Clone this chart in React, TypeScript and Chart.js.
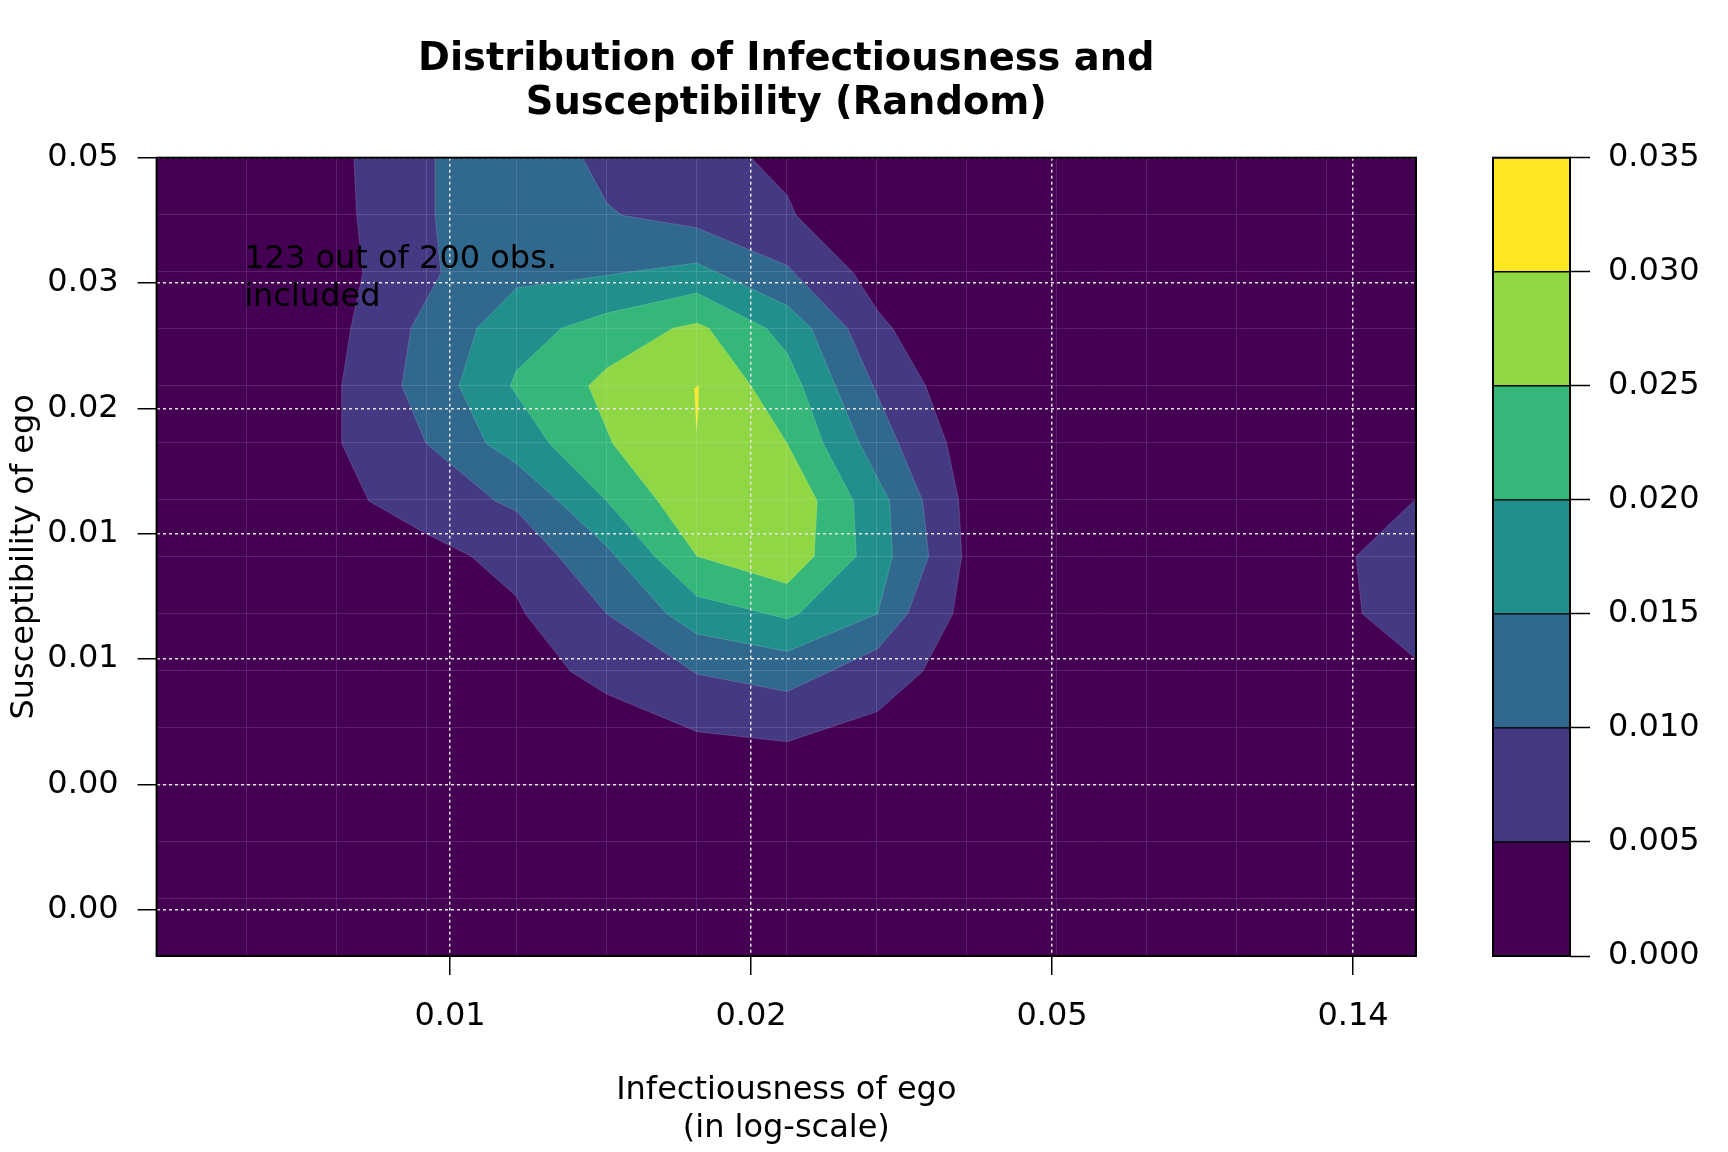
import { useEffect, useRef } from "react";
import { Chart, registerables } from "chart.js";

Chart.register(...registerables);

const FONT = "'DejaVu Sans', sans-serif";
Chart.defaults.font.family = FONT;

// density levels of the filled contour and their viridis colours
const levels = [0, 0.005, 0.01, 0.015, 0.02, 0.025, 0.03, 0.035];
const levelLabels = ["0.000", "0.005", "0.010", "0.015", "0.020", "0.025", "0.030", "0.035"];
const levelColors = ["#440154", "#443A83", "#31688E", "#21908C", "#35B779", "#8FD744", "#FDE725"];

// both axes are in natural log, labels are exp() rounded to 2 decimals
const xRange = [-5.975, -1.791];
const yRange = [-6.185, -3.0];
const xTickVals = [-5, -4, -3, -2];
const xTickLabels = ["0.01", "0.02", "0.05", "0.14"];
const yTickVals = [-3, -3.5, -4, -4.5, -5, -5.5, -6];
const yTickLabels = ["0.05", "0.03", "0.02", "0.01", "0.01", "0.00", "0.00"];

// density grid nodes (seams of the filled contour)
const gridX = [-5.676, -5.377, -5.078, -4.779, -4.48, -4.181, -3.882, -3.584, -3.285, -2.986, -2.687, -2.388, -2.089];
const gridY = [-3.227, -3.455, -3.683, -3.91, -4.137, -4.365, -4.592, -4.82, -5.047, -5.275, -5.502, -5.729, -5.957];

const titleLines = ["Distribution of Infectiousness and", "Susceptibility (Random)"];
const xTitle = ["Infectiousness of ego", "(in log-scale)"];
const yTitle = "Susceptibility of ego";
const noteLines = ["123 out of 200 obs.", "included"];
const noteX = -5.684;
const noteY = -3.441;

// contour polygons, [ln infectiousness, ln susceptibility]
const band005 = [
  [-5.32, -3.0], [-4.0, -3.0], [-3.88, -3.15], [-3.85, -3.23], [-3.66, -3.46], [-3.58, -3.61],
  [-3.53, -3.68], [-3.42, -3.91], [-3.35, -4.14], [-3.31, -4.37], [-3.3, -4.59], [-3.33, -4.82],
  [-3.43, -5.05], [-3.58, -5.21], [-3.88, -5.33], [-4.18, -5.29], [-4.48, -5.14], [-4.6, -5.05],
  [-4.75, -4.82], [-4.78, -4.75], [-4.93, -4.59], [-5.08, -4.5], [-5.27, -4.37], [-5.36, -4.14],
  [-5.36, -3.91], [-5.33, -3.68], [-5.29, -3.46], [-5.31, -3.23],
];
const band005Right = [[-1.79, -4.36], [-1.99, -4.59], [-1.97, -4.82], [-1.79, -5.0]];
const band010 = [
  [-5.05, -3.0], [-4.56, -3.0], [-4.48, -3.18], [-4.43, -3.23], [-4.18, -3.28], [-3.88, -3.43],
  [-3.68, -3.68], [-3.58, -3.95], [-3.51, -4.14], [-3.43, -4.37], [-3.41, -4.59], [-3.48, -4.82],
  [-3.58, -4.96], [-3.88, -5.13], [-4.18, -5.06], [-4.48, -4.82], [-4.64, -4.59], [-4.78, -4.41],
  [-4.85, -4.37], [-5.08, -4.14], [-5.16, -3.91], [-5.13, -3.68], [-5.03, -3.46], [-5.05, -3.23],
];
const band015 = [
  [-4.78, -3.52], [-4.48, -3.47], [-4.43, -3.46], [-4.18, -3.42], [-3.88, -3.59], [-3.8, -3.68],
  [-3.72, -3.91], [-3.64, -4.14], [-3.54, -4.37], [-3.53, -4.59], [-3.58, -4.82], [-3.88, -4.97],
  [-4.18, -4.9], [-4.28, -4.82], [-4.48, -4.55], [-4.64, -4.37], [-4.78, -4.22], [-4.88, -4.14],
  [-4.97, -3.91], [-4.91, -3.68],
];
const band020 = [
  [-4.8, -3.91], [-4.78, -3.85], [-4.63, -3.68], [-4.48, -3.62], [-4.18, -3.54], [-3.95, -3.68],
  [-3.88, -3.78], [-3.83, -3.91], [-3.76, -4.14], [-3.66, -4.37], [-3.65, -4.59], [-3.84, -4.82],
  [-3.88, -4.84], [-4.18, -4.75], [-4.32, -4.59], [-4.48, -4.37], [-4.67, -4.14],
];
const band025 = [
  [-4.54, -3.91], [-4.48, -3.84], [-4.26, -3.68], [-4.18, -3.66], [-4.14, -3.68], [-4.0, -3.91],
  [-3.88, -4.14], [-3.78, -4.37], [-3.79, -4.59], [-3.88, -4.7], [-4.18, -4.59], [-4.31, -4.37],
  [-4.46, -4.14],
];
const band030 = [[-4.188, -3.92], [-4.174, -3.91], [-4.176, -4.01], [-4.181, -4.09]];

const contours: [number[][], number][] = [
  [band005, 1],
  [band005Right, 1],
  [band010, 2],
  [band015, 3],
  [band020, 4],
  [band025, 5],
  [band030, 6],
];

const DOT = "#e4e4e4";
const SEAM = "rgba(255,255,255,0.12)";

// fills the plot with the lowest level, then each contour polygon on top
const contourFill = {
  id: "contourFill",
  beforeDatasetsDraw(chart: any) {
    const { ctx, chartArea: a } = chart;
    ctx.save();
    ctx.beginPath();
    ctx.rect(a.left, a.top, a.width, a.height);
    ctx.clip();
    ctx.fillStyle = levelColors[0];
    ctx.fillRect(a.left, a.top, a.width, a.height);
    chart.data.datasets.forEach((ds: any, i: number) => {
      const pts = chart.getDatasetMeta(i).data;
      if (!pts.length) return;
      ctx.beginPath();
      pts.forEach((p: any, j: number) => (j ? ctx.lineTo(p.x, p.y) : ctx.moveTo(p.x, p.y)));
      ctx.closePath();
      ctx.fillStyle = ds.backgroundColor;
      ctx.fill();
      ctx.strokeStyle = "rgba(255,255,255,0.15)";
      ctx.lineWidth = 1;
      ctx.stroke();
    });
    ctx.restore();
  },
};

const frame = {
  id: "frame",
  afterDraw(chart: any) {
    const { ctx, chartArea: a } = chart;
    ctx.save();
    ctx.strokeStyle = "#000";
    ctx.lineWidth = 2;
    ctx.strokeRect(a.left, a.top, a.width, a.height);
    ctx.restore();
  },
};

const texts = {
  id: "texts",
  afterDraw(chart: any) {
    const { ctx, chartArea: a, scales } = chart;
    ctx.save();
    ctx.fillStyle = "#000";
    ctx.textAlign = "center";
    ctx.font = `bold 38.4px ${FONT}`;
    const cx = (a.left + a.right) / 2;
    ctx.fillText(titleLines[0], cx, 70);
    ctx.fillText(titleLines[1], cx, 114.3);
    ctx.textAlign = "left";
    ctx.font = `32px ${FONT}`;
    const nx = scales.x.getPixelForValue(noteX);
    const ny = scales.y.getPixelForValue(noteY);
    noteLines.forEach((t, i) => ctx.fillText(t, nx, ny + i * 37.7));
    ctx.restore();
  },
};

const tickFont = { family: FONT, size: 32 };

export default function App() {
  const plotRef = useRef<HTMLCanvasElement>(null);
  const barRef = useRef<HTMLCanvasElement>(null);

  useEffect(() => {
    if (!plotRef.current || !barRef.current) return;

    const plot = new Chart(plotRef.current, {
      type: "scatter",
      data: {
        datasets: contours.map(([pts, lvl]) => ({
          data: pts.map(([x, y]) => ({ x, y })),
          backgroundColor: levelColors[lvl],
          pointRadius: 0,
          pointHoverRadius: 0,
          showLine: false,
        })),
      },
      options: {
        responsive: false,
        animation: false,
        events: [],
        layout: { padding: { left: 0, top: 157.7, right: 24, bottom: 0 } },
        plugins: { legend: { display: false }, tooltip: { enabled: false } },
        scales: {
          x: {
            type: "linear",
            position: "bottom",
            min: xRange[0],
            max: xRange[1],
            bounds: "data",
            afterBuildTicks: (s: any) => { s.ticks = xTickVals.map((v) => ({ value: v })); },
            afterFit: (s: any) => { s.height = 196; },
            ticks: {
              autoSkip: false,
              maxRotation: 0,
              callback: (_v: any, i: number) => xTickLabels[i],
              font: tickFont,
              color: "#000",
              padding: 22,
            },
            grid: { color: DOT, lineWidth: 1.5, tickColor: "#000", tickWidth: 1.5, tickLength: 19, tickBorderDash: [], z: 2 },
            border: { display: false, dash: [3, 3] },
            title: {
              display: true,
              text: xTitle,
              color: "#000",
              font: { family: FONT, size: 32, lineHeight: 37.5 / 32 },
              padding: { top: 0, bottom: 5 },
            },
          },
          y: {
            type: "linear",
            position: "left",
            min: yRange[0],
            max: yRange[1],
            bounds: "data",
            afterBuildTicks: (s: any) => { s.ticks = yTickVals.map((v) => ({ value: v })); },
            afterFit: (s: any) => { s.width = 156.6; },
            ticks: {
              autoSkip: false,
              callback: (_v: any, i: number) => yTickLabels[i],
              font: tickFont,
              color: "#000",
              padding: 19,
            },
            grid: { color: DOT, lineWidth: 1.5, tickColor: "#000", tickWidth: 1.5, tickLength: 19, tickBorderDash: [], z: 2 },
            border: { display: false, dash: [3, 3] },
            title: {
              display: true,
              text: yTitle,
              color: "#000",
              font: { family: FONT, size: 32 },
              padding: { top: 5, bottom: 0 },
            },
          },
          gx: {
            type: "linear",
            position: "bottom",
            min: xRange[0],
            max: xRange[1],
            bounds: "data",
            afterBuildTicks: (s: any) => { s.ticks = gridX.map((v) => ({ value: v })); },
            afterFit: (s: any) => { s.height = 0; },
            ticks: { display: false },
            grid: { color: SEAM, lineWidth: 1, drawTicks: false, z: 1 },
            border: { display: false },
          },
          gy: {
            type: "linear",
            position: "left",
            min: yRange[0],
            max: yRange[1],
            bounds: "data",
            afterBuildTicks: (s: any) => { s.ticks = gridY.map((v) => ({ value: v })); },
            afterFit: (s: any) => { s.width = 0; },
            ticks: { display: false },
            grid: { color: SEAM, lineWidth: 1, drawTicks: false, z: 1 },
            border: { display: false },
          },
        },
      } as any,
      plugins: [contourFill, frame, texts],
    });

    // colour key
    const bar = new Chart(barRef.current, {
      type: "bar",
      data: {
        labels: [""],
        datasets: levelColors.map((c, i) => ({
          data: [levels[i + 1] - levels[i]],
          backgroundColor: c,
          borderColor: "#000",
          borderWidth: 1,
          borderSkipped: false,
          barPercentage: 1,
          categoryPercentage: 1,
        })),
      },
      options: {
        responsive: false,
        animation: false,
        events: [],
        layout: { padding: { left: 53, top: 157.7, right: 0, bottom: 196 } },
        plugins: { legend: { display: false }, tooltip: { enabled: false } },
        scales: {
          x: { stacked: true, display: false },
          y: {
            stacked: true,
            position: "right",
            min: levels[0],
            max: levels[levels.length - 1],
            afterBuildTicks: (s: any) => { s.ticks = levels.map((v) => ({ value: v })); },
            afterFit: (s: any) => { s.width = 158; },
            ticks: {
              autoSkip: false,
              callback: (_v: any, i: number) => levelLabels[i],
              font: tickFont,
              color: "#000",
              padding: 18,
            },
            grid: { drawOnChartArea: false, tickColor: "#000", tickWidth: 1.5, tickLength: 20 },
            border: { display: false },
          },
        },
      } as any,
      plugins: [frame],
    });

    return () => {
      plot.destroy();
      bar.destroy();
    };
  }, []);

  return (
    <div style={{ position: "absolute", left: 0, top: 0, width: 1728, height: 1152, background: "#fff" }}>
      <canvas ref={plotRef} width={1440} height={1152} style={{ position: "absolute", left: 0, top: 0 }} />
      <canvas ref={barRef} width={288} height={1152} style={{ position: "absolute", left: 1440, top: 0 }} />
    </div>
  );
}
